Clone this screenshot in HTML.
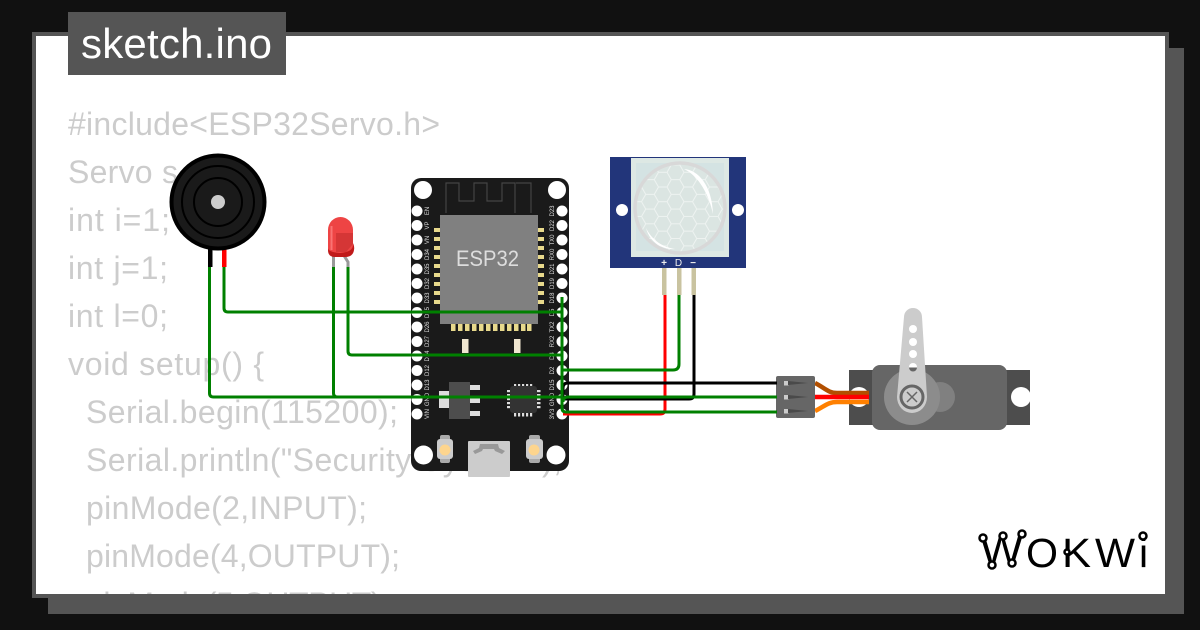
<!DOCTYPE html>
<html><head><meta charset="utf-8"><style>
html,body{margin:0;padding:0;background:#111}
svg{display:block}
text{font-family:"Liberation Sans",sans-serif}
</style></head><body>
<svg width="1200" height="630" viewBox="0 0 1200 630" xmlns="http://www.w3.org/2000/svg">
<defs>
<clipPath id="p"><rect x="36" y="36" width="1129" height="558"/></clipPath>
<clipPath id="lens"><circle cx="680" cy="208" r="45"/></clipPath>
<pattern id="hex" width="25.500" height="14.720" patternUnits="userSpaceOnUse" x="4" y="3">
<path d="M25.500 7.360H17L12.750 0H4.250L0 7.360L4.250 14.720H12.750L17 7.360" fill="none" stroke="#eef3f1" stroke-width="1"/>
</pattern>
</defs>
<rect width="1200" height="630" fill="#111"/>
<rect x="48" y="48" width="1136" height="566" fill="#555"/>
<rect x="34" y="34" width="1133" height="562" fill="#fff" stroke="#555" stroke-width="4"/>
<g clip-path="url(#p)" font-size="32" fill="#ccc">
<text x="68" y="135" textLength="372">#include&lt;ESP32Servo.h&gt;</text>
<text x="68" y="183" textLength="110">Servo s</text>
<text x="68" y="231" textLength="102">int i=1;</text>
<text x="68" y="279" textLength="100">int j=1;</text>
<text x="68" y="327" textLength="100">int l=0;</text>
<text x="68" y="375" textLength="196">void setup() {</text>
<text x="86" y="423" textLength="312">Serial.begin(115200);</text>
<text x="86" y="471" textLength="476">Serial.println("Security System");</text>
<text x="86" y="519" textLength="281">pinMode(2,INPUT);</text>
<text x="86" y="567" textLength="314">pinMode(4,OUTPUT);</text>
<text x="86" y="615" textLength="304">pinMode(5,OUTPUT);</text>
</g>
<rect x="68" y="12" width="218" height="63" fill="#555"/>
<text x="81" y="58" font-size="42" fill="#fff" textLength="191">sketch.ino</text>

<!-- ESP32 board -->
<rect x="411" y="178" width="158" height="293" rx="10" fill="#1a1a1a"/>
<g fill="#fff">
<circle cx="423" cy="190" r="9"/><circle cx="557" cy="190" r="9"/><circle cx="423.500" cy="455" r="9.500"/><circle cx="556" cy="455" r="9.500"/>
</g>
<path d="M446 213V183H459V201H474V183H487V201H502V183H515V213M516 183H531V213" fill="none" stroke="#444" stroke-width="1.200"/>
<g fill="#e8d98c">
<rect x="434" y="228" width="6" height="4"/><rect x="434" y="237" width="6" height="4"/><rect x="434" y="246" width="6" height="4"/><rect x="434" y="255" width="6" height="4"/><rect x="434" y="264" width="6" height="4"/><rect x="434" y="273" width="6" height="4"/><rect x="434" y="282" width="6" height="4"/><rect x="434" y="291" width="6" height="4"/><rect x="434" y="300" width="6" height="4"/>
<rect x="538" y="228" width="6" height="4"/><rect x="538" y="237" width="6" height="4"/><rect x="538" y="246" width="6" height="4"/><rect x="538" y="255" width="6" height="4"/><rect x="538" y="264" width="6" height="4"/><rect x="538" y="273" width="6" height="4"/><rect x="538" y="282" width="6" height="4"/><rect x="538" y="291" width="6" height="4"/><rect x="538" y="300" width="6" height="4"/>
<rect x="451" y="324" width="4.500" height="7"/><rect x="458" y="324" width="4.500" height="7"/><rect x="465" y="324" width="4.500" height="7"/><rect x="472" y="324" width="4.500" height="7"/><rect x="479" y="324" width="4.500" height="7"/><rect x="486" y="324" width="4.500" height="7"/><rect x="493" y="324" width="4.500" height="7"/><rect x="500" y="324" width="4.500" height="7"/><rect x="507" y="324" width="4.500" height="7"/><rect x="514" y="324" width="4.500" height="7"/><rect x="521" y="324" width="4.500" height="7"/><rect x="527" y="324" width="4.500" height="7"/>
</g>
<rect x="440" y="215" width="98" height="109" fill="#808080"/>
<text x="456" y="266" font-size="22" fill="#ddd" textLength="63" lengthAdjust="spacingAndGlyphs">ESP32</text>
<rect x="462" y="339" width="6.500" height="14" fill="#f0e6d0"/><rect x="514" y="339" width="6.500" height="14" fill="#f0e6d0"/>
<g fill="#fff">
<circle cx="417" cy="211" r="5.500"/><circle cx="417" cy="225.500" r="5.500"/><circle cx="417" cy="240" r="5.500"/><circle cx="417" cy="254.500" r="5.500"/><circle cx="417" cy="269" r="5.500"/><circle cx="417" cy="283.500" r="5.500"/><circle cx="417" cy="298" r="5.500"/><circle cx="417" cy="312.500" r="5.500"/><circle cx="417" cy="327" r="5.500"/><circle cx="417" cy="341.500" r="5.500"/><circle cx="417" cy="356" r="5.500"/><circle cx="417" cy="370.500" r="5.500"/><circle cx="417" cy="385" r="5.500"/><circle cx="417" cy="399.500" r="5.500"/><circle cx="417" cy="414" r="5.500"/>
<circle cx="562" cy="211" r="5.500"/><circle cx="562" cy="225.500" r="5.500"/><circle cx="562" cy="240" r="5.500"/><circle cx="562" cy="254.500" r="5.500"/><circle cx="562" cy="269" r="5.500"/><circle cx="562" cy="283.500" r="5.500"/><circle cx="562" cy="298" r="5.500"/><circle cx="562" cy="312.500" r="5.500"/><circle cx="562" cy="327" r="5.500"/><circle cx="562" cy="341.500" r="5.500"/><circle cx="562" cy="356" r="5.500"/><circle cx="562" cy="370.500" r="5.500"/><circle cx="562" cy="385" r="5.500"/><circle cx="562" cy="399.500" r="5.500"/><circle cx="562" cy="414" r="5.500"/>
</g>
<g font-size="6" fill="#ddd" text-anchor="middle">
<text transform="translate(429,211) rotate(-90)">EN</text><text transform="translate(429,225.500) rotate(-90)">VP</text><text transform="translate(429,240) rotate(-90)">VN</text><text transform="translate(429,254.500) rotate(-90)">D34</text><text transform="translate(429,269) rotate(-90)">D35</text><text transform="translate(429,283.500) rotate(-90)">D32</text><text transform="translate(429,298) rotate(-90)">D33</text><text transform="translate(429,312.500) rotate(-90)">D25</text><text transform="translate(429,327) rotate(-90)">D26</text><text transform="translate(429,341.500) rotate(-90)">D27</text><text transform="translate(429,356) rotate(-90)">D14</text><text transform="translate(429,370.500) rotate(-90)">D12</text><text transform="translate(429,385) rotate(-90)">D13</text><text transform="translate(429,399.500) rotate(-90)">GND</text><text transform="translate(429,414) rotate(-90)">VIN</text>
<text transform="translate(554,211) rotate(-90)">D23</text><text transform="translate(554,225.500) rotate(-90)">D22</text><text transform="translate(554,240) rotate(-90)">TX0</text><text transform="translate(554,254.500) rotate(-90)">RX0</text><text transform="translate(554,269) rotate(-90)">D21</text><text transform="translate(554,283.500) rotate(-90)">D19</text><text transform="translate(554,298) rotate(-90)">D18</text><text transform="translate(554,312.500) rotate(-90)">D5</text><text transform="translate(554,327) rotate(-90)">TX2</text><text transform="translate(554,341.500) rotate(-90)">RX2</text><text transform="translate(554,356) rotate(-90)">D4</text><text transform="translate(554,370.500) rotate(-90)">D2</text><text transform="translate(554,385) rotate(-90)">D15</text><text transform="translate(554,399.500) rotate(-90)">GND</text><text transform="translate(554,414) rotate(-90)">3V3</text>
</g>
<!-- regulator -->
<rect x="439" y="391" width="11" height="17" fill="#ddd"/>
<rect x="470" y="385" width="10" height="5" fill="#ddd"/><rect x="470" y="398" width="10" height="5" fill="#ddd"/><rect x="470" y="411" width="10" height="5" fill="#ddd"/>
<rect x="449" y="382" width="21" height="37" fill="#4d4d4d"/>
<!-- IC -->
<g fill="#ddd">
<rect x="514" y="384" width="2.200" height="3"/><rect x="518" y="384" width="2.200" height="3"/><rect x="522" y="384" width="2.200" height="3"/><rect x="526" y="384" width="2.200" height="3"/><rect x="530" y="384" width="2.200" height="3"/>
<rect x="514" y="413" width="2.200" height="3.500"/><rect x="518" y="413" width="2.200" height="3.500"/><rect x="522" y="413" width="2.200" height="3.500"/><rect x="526" y="413" width="2.200" height="3.500"/><rect x="530" y="413" width="2.200" height="3.500"/>
<rect x="507" y="390" width="3.500" height="2.200"/><rect x="507" y="394" width="3.500" height="2.200"/><rect x="507" y="398" width="3.500" height="2.200"/><rect x="507" y="402" width="3.500" height="2.200"/><rect x="507" y="406" width="3.500" height="2.200"/>
<rect x="537" y="390" width="3.500" height="2.200"/><rect x="537" y="394" width="3.500" height="2.200"/><rect x="537" y="398" width="3.500" height="2.200"/><rect x="537" y="402" width="3.500" height="2.200"/><rect x="537" y="406" width="3.500" height="2.200"/>
</g>
<rect x="510" y="386" width="27" height="27" rx="3" fill="#333"/>
<!-- buttons -->
<rect x="440" y="435" width="10" height="28" rx="2" fill="#aaa"/><rect x="437" y="439" width="16" height="20" rx="3" fill="#ccc"/><circle cx="445" cy="450" r="5.500" fill="#fdd58e"/>
<rect x="529" y="435" width="11" height="28" rx="2" fill="#aaa"/><rect x="526" y="439" width="17" height="20" rx="3" fill="#ccc"/><circle cx="534" cy="450" r="5.500" fill="#fdd58e"/>
<!-- USB -->
<rect x="468" y="441" width="42" height="36" rx="1" fill="#ccc"/>
<path d="M473 451l6-3 1-4h18l1 4 6 3-3 3-7-3-1-2h-11l-1 2-7 3z" fill="#999"/>

<!-- Buzzer -->
<rect x="208" y="248" width="4.500" height="19" fill="#000"/><rect x="222" y="248" width="4.500" height="19" fill="#f00"/>
<circle cx="218" cy="202" r="46.500" fill="#1a1a1a" stroke="#000" stroke-width="4"/>
<circle cx="218" cy="202" r="36" fill="none" stroke="#000" stroke-width="2"/>
<circle cx="218" cy="202" r="24" fill="none" stroke="#000" stroke-width="2"/>
<circle cx="218" cy="202" r="7" fill="#ccc"/>

<!-- LED -->
<path d="M333.500 254V267M343 254l5 8v5" fill="none" stroke="#999" stroke-width="3"/>
<path d="M328 240H351Q355 245 354 250Q353 257 345 257H335Q328 257 328 250Z" fill="#c01a1a"/>
<path d="M328 230a12.500 13 0 0 1 25 0V245Q353 252 340 253Q328 252 328 248Z" fill="#ee4444"/>
<path d="M336 233H353V244L346 252H336Z" fill="#c83030" opacity=".65"/>
<path d="M331.500 226V250" stroke="#f88" stroke-width="2" fill="none" opacity=".7"/>

<!-- PIR -->
<rect x="610" y="157" width="136" height="111" fill="#22357a"/>
<rect x="631" y="158" width="98" height="99" fill="#dde8e4"/>
<rect x="636" y="163" width="88" height="88" fill="#d4e3e3"/>
<circle cx="680" cy="208" r="45" fill="#dbe5e2"/>
<circle cx="680" cy="208" r="45" fill="url(#hex)"/>
<circle cx="680" cy="208" r="45" fill="none" stroke="#d8d8d8" stroke-width="3.500"/>
<path d="M684 169c14 1 28 16 29 45-4-19-14-38-29-45zM646 228c6 12 16 19 29 21-12 1-25-6-29-21z" fill="#fff"/>
<circle cx="622" cy="210" r="6" fill="#fff"/><circle cx="738" cy="210" r="6" fill="#fff"/>
<g font-size="10" fill="#eee" text-anchor="middle" font-weight="bold">
<text x="664" y="266">+</text><text x="678.500" y="266" font-weight="normal">D</text><text x="693" y="266">−</text>
</g>
<rect x="662" y="268" width="4.500" height="27" fill="#c9c3a0"/><rect x="677" y="268" width="4.500" height="27" fill="#c9c3a0"/><rect x="691.500" y="268" width="4.500" height="27" fill="#c9c3a0"/>

<!-- Servo -->
<rect x="849" y="370" width="181" height="55" fill="#4d4d4d"/>
<circle cx="859" cy="397" r="10" fill="#fff"/><circle cx="1021" cy="397" r="10" fill="#fff"/>
<rect x="872" y="365" width="135" height="65" rx="8" fill="#666"/>
<circle cx="940" cy="397" r="15" fill="#808080"/>
<circle cx="912" cy="397" r="28" fill="#8c8c8c"/>
<path d="M904 317a9 9 0 0 1 18 0L927 397a15 16 0 0 1-30 0z" fill="#ccc"/>
<circle cx="913" cy="329" r="4" fill="#fff"/><circle cx="913" cy="342" r="4" fill="#fff"/><circle cx="913" cy="354" r="4" fill="#fff"/><circle cx="913" cy="367" r="4" fill="#fff"/>
<path d="M909 367.500a4 4 0 0 0 8 0z" fill="#666"/>
<circle cx="912" cy="397" r="11" fill="#ccc" stroke="#666" stroke-width="3"/>
<path d="M907 392l10 10M917 392l-10 10" stroke="#666" stroke-width="1.500"/>
<g fill="none">
<path d="M815 383c10 5 13 10 22 10H869" stroke="#b24f00" stroke-width="4.500"/>
<path d="M815 411c10-5 13-9 22-9H869" stroke="#ff8000" stroke-width="4.500"/>
<path d="M815 397H869" stroke="#f00" stroke-width="4.500"/>
</g>
<rect x="776" y="376" width="39" height="42" rx="2" fill="#666"/>
<g fill="#ccc"><rect x="784" y="381" width="4.500" height="4.500"/><rect x="784" y="395" width="4.500" height="4.500"/><rect x="784" y="409" width="4.500" height="4.500"/></g>
<g fill="#4a4a4a"><path d="M788 381l20 2-20 2zM788 395l20 2-20 2zM788 409l20 2-20 2z"/></g>

<!-- Wires -->
<g fill="none" stroke-width="3" stroke-linejoin="round">
<path d="M665 295V409q0 5-5 5H563" stroke="#f00"/>
<path d="M694 295V394q0 5-5 5H563" stroke="#000"/>
<path d="M777 383H568q-5 0-5 5v11" stroke="#000"/>
<path d="M209.500 267V393q0 4 4 4H562" stroke="#008000"/>
<path d="M224 267V308q0 4 4 4H563" stroke="#008000"/>
<path d="M333.500 267V393q0 4 4 4H562" stroke="#008000"/>
<path d="M348 267V351q0 4 4 4H562" stroke="#008000"/>
<path d="M679 295V364q0 6-6 6H563" stroke="#008000"/>
<path d="M777 397H568q-5 0-5 5" stroke="#008000"/>
<path d="M562 297V408q0 4 4 4H777" stroke="#008000"/>
</g>

<!-- Wokwi logo -->
<g fill="#000">
<text x="980" y="565" font-size="44" textLength="43" lengthAdjust="spacingAndGlyphs">W</text>
<text x="1026" y="567" font-size="41" textLength="32" lengthAdjust="spacingAndGlyphs">O</text>
<text x="1062" y="567" font-size="41" textLength="29" lengthAdjust="spacingAndGlyphs">K</text>
<text x="1095" y="567" font-size="41" textLength="40" lengthAdjust="spacingAndGlyphs">W</text>
<text x="1139" y="567" font-size="41">i</text>
</g>
<g fill="#fff" stroke="#000" stroke-width="2.500">
<circle cx="983" cy="538" r="3.500"/><circle cx="1003" cy="536" r="3.500"/><circle cx="1022" cy="534" r="3.500"/><circle cx="992" cy="565" r="3.500"/><circle cx="1012" cy="563" r="3.500"/><circle cx="1067" cy="552" r="2.500"/><circle cx="1143" cy="536" r="3.500"/>
</g>
</svg>
</body></html>
